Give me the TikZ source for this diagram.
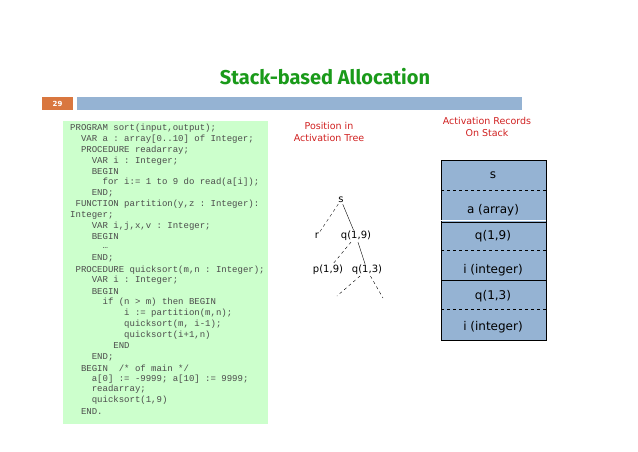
\documentclass[tikz,border=0pt]{standalone}
\usepackage{fontspec}
\setmainfont{DejaVu Sans}
\setmonofont{Liberation Mono}
\newfontfamily\titlefont{Fira Sans}
\usepackage{xcolor}
\definecolor{titlegreen}{HTML}{1A9A1A}
\definecolor{barblue}{HTML}{95B3D3}
\definecolor{numorange}{HTML}{D9773F}
\definecolor{codebg}{HTML}{CCFFCC}
\definecolor{stackblue}{HTML}{95B3D3}
\definecolor{labelred}{HTML}{D02020}
\newcommand{\codeline}[3]{\node[codetext] (c#1) at (70+5.4*#2,128+10.9*#1) {#3};}

\begin{document}
\begin{tikzpicture}[x=1pt,y=-1pt,
		codetext/.style={anchor=west,inner sep=0pt,font=\ttfamily\fontsize{9}{10}\selectfont,text=black!70},
		treenode/.style={inner sep=1pt,font=\fontsize{10}{12}\selectfont},
		stacktext/.style={font=\fontsize{12}{14}\selectfont},
		redlabel/.style={align=center,text=labelred,font=\fontsize{9.5}{12}\selectfont}]
		%
		\useasboundingbox (0,0) rectangle (638,451);
		\node[text=titlegreen,font=\titlefont\bfseries\fontsize{20}{24}\selectfont] (title) at (325,77) {Stack-based Allocation};
		\fill[numorange] (42,97) rectangle (73,110);
		\node[text=white,font=\bfseries\fontsize{7}{8}\selectfont] (num) at (57.5,103.5) {29};
		\fill[barblue] (77,97) rectangle (522,110);
		%
		\fill[codebg] (63,121) rectangle (268,424);
		\codeline{0}{0}{PROGRAM sort(input,output);}
		\codeline{1}{2}{VAR a : array[0..10] of Integer;}
		\codeline{2}{2}{PROCEDURE readarray;}
		\codeline{3}{4}{VAR i : Integer;}
		\codeline{4}{4}{BEGIN}
		\codeline{5}{6}{for i:= 1 to 9 do read(a[i]);}
		\codeline{6}{4}{END;}
		\codeline{7}{1}{FUNCTION partition(y,z : Integer):}
		\codeline{8}{0}{Integer;}
		\codeline{9}{4}{VAR i,j,x,v : Integer;}
		\codeline{10}{4}{BEGIN}
		\codeline{11}{6}{…}
		\codeline{12}{4}{END;}
		\codeline{13}{1}{PROCEDURE quicksort(m,n : Integer);}
		\codeline{14}{4}{VAR i : Integer;}
		\codeline{15}{4}{BEGIN}
		\codeline{16}{6}{if (n > m) then BEGIN}
		\codeline{17}{10}{i := partition(m,n);}
		\codeline{18}{10}{quicksort(m, i-1);}
		\codeline{19}{10}{quicksort(i+1,n)}
		\codeline{20}{8}{END}
		\codeline{21}{4}{END;}
		\codeline{22}{2}{BEGIN\ \ /* of main */}
		\codeline{23}{4}{a[0] := -9999; a[10] := 9999;}
		\codeline{24}{4}{readarray;}
		\codeline{25}{4}{quicksort(1,9)}
		\codeline{26}{2}{END.}
		%
		\node[redlabel] (treelabel) at (329,132) {Position in\\Activation Tree};
		\node[redlabel] (stacklabel) at (487,127) {Activation Records\\On Stack};
		%
		\node[treenode] (s) at (341,200) {s};
		\node[treenode] (r) at (317,236) {r};
		\node[treenode] (q19) at (356,236) {q(1,9)};
		\node[treenode] (p19) at (328,270) {p(1,9)};
		\node[treenode] (q13) at (367,270) {q(1,3)};
		\coordinate (l1) at (337,296);
		\coordinate (l2) at (383,298);
		\draw[dashed] (s) -- (r);
		\draw (s) -- (q19);
		\draw[dashed] (q19) -- (p19);
		\draw (q19) -- (q13);
		\draw[dashed] (q13) -- (l1);
		\draw[dashed] (q13) -- (l2);
		%
		\fill[stackblue] (441,160) rectangle (546,340);
		\draw (441,160) rectangle (546,340);
		\draw[dashed] (441,190) -- (546,190);
		\draw[white] (441,220) -- (546,220);
		\draw (441,222) -- (546,222);
		\draw[dashed] (441,250) -- (546,250);
		\draw (441,280) -- (546,280);
		\draw[dashed] (441,309) -- (546,309);
		\node[stacktext] (rs) at (493,175) {s};
		\node[stacktext] (ra) at (493,210) {a (array)};
		\node[stacktext] (rq19) at (493,236) {q(1,9)};
		\node[stacktext] (ri1) at (493,270) {i (integer)};
		\node[stacktext] (rq13) at (493,296) {q(1,3)};
		\node[stacktext] (ri2) at (493,327) {i (integer)};
	\end{tikzpicture}
\end{document}
